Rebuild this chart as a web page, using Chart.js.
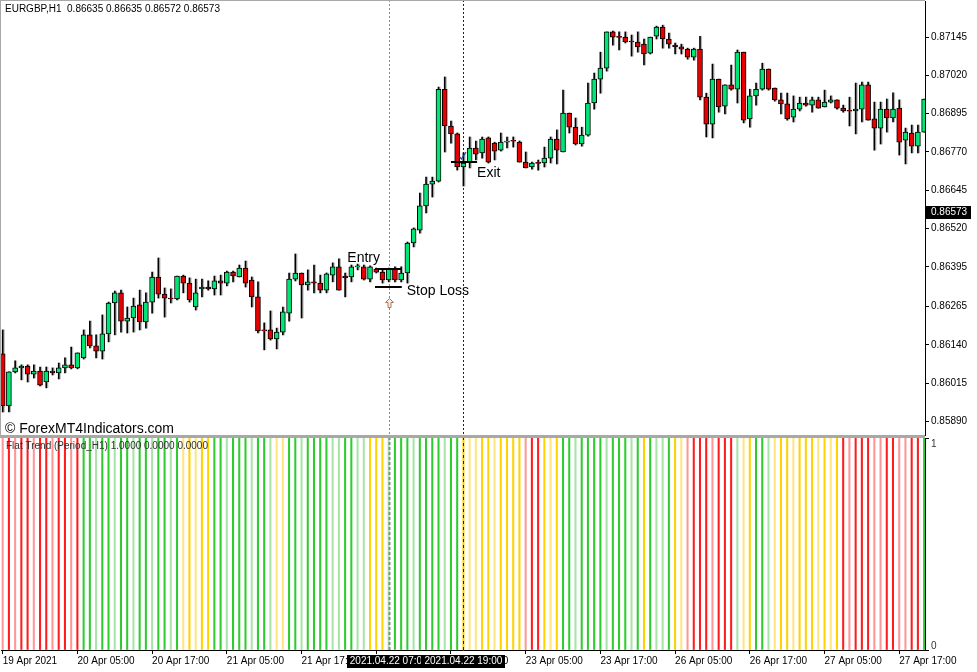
<!DOCTYPE html>
<html lang="en">
<head>
<meta charset="UTF-8">
<title>EURGBP,H1 - Flat Trend</title>
<script src="https://cdn.jsdelivr.net/npm/chart.js"></script>
<style>
  body { margin: 0; background: #fff; width: 977px; height: 672px; overflow: hidden; position: relative; }
  #priceWrap { position: absolute; left: 0; top: 0; width: 977px; height: 437px; }
  #trendWrap { position: absolute; left: 0; top: 437px; width: 977px; height: 235px; }
</style>
</head>
<body>
<div id="priceWrap"><canvas id="priceChart"></canvas></div>
<div id="trendWrap"><canvas id="trendChart"></canvas></div>

<script>
// ---- data (EURGBP H1) ----
const opens = [
  0.86111,0.85941,0.86052,0.86065,0.86071,0.86045,0.86055,0.86019,0.86055,0.86049,
  0.86065,0.86075,0.86065,0.86098,0.86173,0.86137,0.86120,0.86176,0.86277,0.86310,
  0.86218,0.86228,0.86271,0.86215,0.86280,0.86362,0.86306,0.86293,0.86290,0.86365,
  0.86342,0.86264,0.86323,0.86329,0.86323,0.86349,0.86342,0.86378,0.86362,0.86391,
  0.86352,0.86297,0.86189,0.86189,0.86160,0.86182,0.86244,0.86355,0.86375,0.86336,
  0.86346,0.86342,0.86319,0.86368,0.86395,0.86365,0.86362,0.86395,0.86395,0.86355,
  0.86388,0.86378,0.86352,0.86388,0.86352,0.86375,0.86473,0.86515,0.86594,0.86665,
  0.86675,0.86975,0.86855,0.86829,0.86721,0.86737,0.86783,0.86767,0.86816,0.86799,
  0.86776,0.86802,0.86806,0.86802,0.86737,0.86721,0.86734,0.86734,0.86750,0.86812,
  0.86770,0.86897,0.86851,0.86796,0.86825,0.86930,0.87008,0.87044,0.87162,0.87145,
  0.87145,0.87132,0.87129,0.87122,0.87093,0.87148,0.87178,0.87139,0.87119,0.87113,
  0.87106,0.87080,0.87106,0.86949,0.86861,0.87008,0.86920,0.86989,0.86975,0.87096,
  0.86878,0.86953,0.86975,0.87041,0.86979,0.86940,0.86927,0.86884,0.86910,0.86930,
  0.86923,0.86940,0.86917,0.86933,0.86940,0.86913,0.86904,0.86904,0.86910,0.86989,
  0.86878,0.86848,0.86910,0.86881,0.86913,0.86809,0.86832,0.86789,0.86835
];
const highs = [
  0.86189,0.86052,0.86088,0.86075,0.86075,0.86075,0.86068,0.86068,0.86065,0.86081,
  0.86098,0.86133,0.86114,0.86189,0.86218,0.86173,0.86238,0.86280,0.86316,0.86319,
  0.86264,0.86293,0.86319,0.86310,0.86378,0.86424,0.86326,0.86323,0.86365,0.86368,
  0.86359,0.86355,0.86355,0.86349,0.86365,0.86368,0.86381,0.86381,0.86401,0.86414,
  0.86362,0.86346,0.86212,0.86251,0.86195,0.86264,0.86375,0.86437,0.86375,0.86385,
  0.86401,0.86368,0.86375,0.86408,0.86421,0.86375,0.86401,0.86404,0.86401,0.86398,
  0.86391,0.86385,0.86391,0.86395,0.86395,0.86476,0.86522,0.86636,0.86688,0.86688,
  0.86982,0.87015,0.86871,0.86832,0.86767,0.86819,0.86806,0.86819,0.86819,0.86802,
  0.86832,0.86819,0.86819,0.86806,0.86770,0.86737,0.86744,0.86786,0.86819,0.86842,
  0.86972,0.86897,0.86881,0.86851,0.86995,0.87028,0.87096,0.87162,0.87165,0.87162,
  0.87162,0.87152,0.87162,0.87139,0.87145,0.87181,0.87184,0.87158,0.87126,0.87122,
  0.87109,0.87109,0.87148,0.86962,0.87057,0.87008,0.86989,0.87054,0.87103,0.87096,
  0.86975,0.86995,0.87060,0.87041,0.86979,0.86962,0.86962,0.86953,0.86949,0.86949,
  0.86949,0.86949,0.86972,0.86953,0.86940,0.86923,0.86949,0.86995,0.86998,0.86998,
  0.86933,0.86933,0.86943,0.86963,0.86940,0.86848,0.86858,0.86858,0.86943
];
const lows = [
  0.85921,0.85921,0.86049,0.86026,0.86019,0.86032,0.86006,0.86000,0.86042,0.86029,
  0.86049,0.86062,0.86062,0.86094,0.86130,0.86098,0.86094,0.86150,0.86173,0.86182,
  0.86179,0.86182,0.86189,0.86195,0.86244,0.86293,0.86231,0.86277,0.86287,0.86310,
  0.86280,0.86254,0.86297,0.86319,0.86303,0.86303,0.86333,0.86346,0.86362,0.86329,
  0.86264,0.86179,0.86124,0.86156,0.86127,0.86173,0.86218,0.86349,0.86228,0.86319,
  0.86310,0.86310,0.86310,0.86346,0.86319,0.86297,0.86346,0.86385,0.86352,0.86346,
  0.86375,0.86342,0.86346,0.86346,0.86346,0.86342,0.86460,0.86505,0.86571,0.86623,
  0.86672,0.86770,0.86799,0.86711,0.86659,0.86718,0.86744,0.86750,0.86734,0.86744,
  0.86773,0.86783,0.86786,0.86737,0.86718,0.86714,0.86711,0.86721,0.86734,0.86731,
  0.86770,0.86832,0.86793,0.86789,0.86822,0.86910,0.86962,0.87034,0.87119,0.87103,
  0.87126,0.87083,0.87096,0.87054,0.87090,0.87139,0.87109,0.87109,0.87090,0.87090,
  0.87073,0.87070,0.86940,0.86819,0.86816,0.86900,0.86894,0.86972,0.86930,0.86865,
  0.86851,0.86923,0.86972,0.86972,0.86936,0.86894,0.86874,0.86868,0.86904,0.86920,
  0.86900,0.86913,0.86917,0.86930,0.86910,0.86900,0.86855,0.86829,0.86868,0.86874,
  0.86776,0.86796,0.86835,0.86868,0.86760,0.86731,0.86767,0.86767,0.86835
];
const closes = [
  0.85941,0.86052,0.86065,0.86071,0.86045,0.86055,0.86009,0.86055,0.86049,0.86065,
  0.86075,0.86065,0.86114,0.86173,0.86137,0.86120,0.86176,0.86277,0.86310,0.86218,
  0.86228,0.86267,0.86215,0.86280,0.86362,0.86306,0.86293,0.86290,0.86365,0.86342,
  0.86287,0.86310,0.86329,0.86323,0.86349,0.86342,0.86378,0.86365,0.86391,0.86342,
  0.86297,0.86186,0.86186,0.86160,0.86182,0.86248,0.86355,0.86375,0.86336,0.86346,
  0.86342,0.86319,0.86372,0.86395,0.86319,0.86359,0.86395,0.86396,0.86355,0.86395,
  0.86378,0.86352,0.86388,0.86352,0.86375,0.86473,0.86519,0.86594,0.86665,0.86675,
  0.86975,0.86855,0.86829,0.86721,0.86734,0.86783,0.86763,0.86812,0.86737,0.86773,
  0.86802,0.86806,0.86805,0.86737,0.86718,0.86734,0.86733,0.86750,0.86812,0.86776,
  0.86897,0.86851,0.86796,0.86825,0.86930,0.87008,0.87044,0.87162,0.87145,0.87144,
  0.87129,0.87129,0.87113,0.87090,0.87145,0.87178,0.87139,0.87122,0.87113,0.87106,
  0.87080,0.87106,0.86949,0.86861,0.87008,0.86917,0.86989,0.86975,0.87096,0.86874,
  0.86953,0.86975,0.87041,0.86975,0.86940,0.86927,0.86878,0.86910,0.86930,0.86923,
  0.86940,0.86913,0.86933,0.86940,0.86913,0.86904,0.86903,0.86910,0.86989,0.86874,
  0.86848,0.86910,0.86881,0.86910,0.86802,0.86835,0.86789,0.86835,0.86943
];

// Flat Trend state per bar: U/u = up (strong/weak), D/d = down, F/f = flat
const trendState = (
  'dDdDDdDDdDDdD' + 'UUuUUuUUuUUuUUuU' + 'fFfFF' + 'UUuUUUuUUuffUUuUUU' +
  'UuuUUuu' + 'FFF' + 'u' + 'UUUuUUUUuUU' + 'F' + 'ffFFfFFFF' + 'dDD' + 'FfF' +
  'UUuUUUUuUUUuU' + 'F' + 'UuuUFf' + 'dDDDdDDD' + 'ufFUUufFFfFFFfFfF' +
  'DdDDDddDDddDD' + 'U'
).split('');

const priceTicks = [0.87145, 0.87020, 0.86895, 0.86770, 0.86645, 0.86520, 0.86395, 0.86265, 0.86140, 0.86015, 0.85890];
const timeTickBars = [0, 12, 24, 36, 48, 60, 72, 84, 96, 108, 120, 132, 144];
const timeLabels = ['19 Apr 2021', '20 Apr 05:00', '20 Apr 17:00', '21 Apr 05:00', '21 Apr 17:00',
  '22 Apr 05:00', '22 Apr 17:00', '23 Apr 05:00', '23 Apr 17:00', '26 Apr 05:00', '26 Apr 17:00',
  '27 Apr 05:00', '27 Apr 17:00'];

const headerText = 'EURGBP,H1  0.86635 0.86635 0.86572 0.86573';
const lastPrice = 0.86573;
const markerBars = [62, 74];
const markerLabels = ['2021.04.22 07:00', '2021.04.22 19:00'];
const entryLevel = 0.86388, stopLevel = 0.86329, exitLevel = 0.86737;
const entryBars = [59.8, 64.1], exitBars = [72.0, 76.2];

// ---- styles ----
const FONT = "'Liberation Sans', Arial, sans-serif";
const UP = '#00e676', DOWN = '#e80000';
const trendColors = { U: '#2ecc2e', u: '#a8e4a8', D: '#ff1c1c', d: '#ff9696', F: '#ffd200', f: '#ffe580' };
const X_MIN = -0.27, X_MAX = 148.14;

const bodies = opens.map((o, i) => ({ x: i, y: [o, closes[i]] }));
const wicks = lows.map((l, i) => ({ x: i, y: [l, highs[i]] }));
const shadows = lows.map((l, i) => ({ x: i + 0.2, y: [l, highs[i]] }));
const bodyColors = opens.map((o, i) => closes[i] >= o ? UP : DOWN);

function vDashed(ctx, x, y0, y1, color, dash, width) {
  ctx.save();
  ctx.strokeStyle = color;
  ctx.lineWidth = width;
  ctx.setLineDash(dash);
  ctx.beginPath();
  ctx.moveTo(Math.round(x) + 0.5, y0);
  ctx.lineTo(Math.round(x) + 0.5, y1);
  ctx.stroke();
  ctx.restore();
}

const priceDecor = {
  id: 'priceDecor',
  beforeDatasetsDraw(chart) {
    const { ctx, scales: { x } } = chart;
    vDashed(ctx, x.getPixelForValue(markerBars[0]), 0, chart.height, '#8a8a8a', [2, 2], 1);
    vDashed(ctx, x.getPixelForValue(markerBars[1]), 0, chart.height, '#202020', [2, 2], 1);
  },
  afterDraw(chart) {
    const { ctx, chartArea: a, scales: { x, y } } = chart;
    ctx.save();
    // frame
    ctx.fillStyle = '#a8a8a8';
    ctx.fillRect(0, 0, a.right, 1);
    ctx.fillRect(0, 0, 1, a.bottom);
    ctx.fillRect(0, a.bottom, a.right, 2);

    // trade lines
    ctx.fillStyle = '#000';
    const hl = (bars, level) => {
      const x0 = x.getPixelForValue(bars[0]), x1 = x.getPixelForValue(bars[1]);
      ctx.fillRect(x0, Math.round(y.getPixelForValue(level)) - 1, x1 - x0, 2);
    };
    hl(entryBars, entryLevel);
    hl(entryBars, stopLevel);
    hl(exitBars, exitLevel);

    ctx.font = '14px ' + FONT;
    ctx.textBaseline = 'alphabetic';
    ctx.textAlign = 'right';
    ctx.fillText('Entry', x.getPixelForValue(entryBars[0]) + 5, y.getPixelForValue(entryLevel) - 7);
    ctx.textAlign = 'left';
    ctx.fillText('Stop Loss', x.getPixelForValue(entryBars[1]) + 5, y.getPixelForValue(stopLevel) + 8);
    ctx.fillText('Exit', x.getPixelForValue(exitBars[1]), y.getPixelForValue(exitLevel) + 15);
    ctx.fillText('\u00A9 ForexMT4Indicators.com', 5, a.bottom - 2);

    // entry arrow
    const ax = Math.round(x.getPixelForValue(markerBars[0])) + 0.5;
    const ay = Math.round(y.getPixelForValue(stopLevel)) + 11.5;
    ctx.beginPath();
    ctx.moveTo(ax, ay);
    ctx.lineTo(ax - 4, ay + 4);
    ctx.lineTo(ax - 1.5, ay + 4);
    ctx.lineTo(ax - 1.5, ay + 9);
    ctx.lineTo(ax + 1.5, ay + 9);
    ctx.lineTo(ax + 1.5, ay + 4);
    ctx.lineTo(ax + 4, ay + 4);
    ctx.closePath();
    ctx.fillStyle = '#e8eefc';
    ctx.fill();
    ctx.strokeStyle = '#c07838';
    ctx.lineWidth = 1;
    ctx.stroke();

    // exit check mark
    const cx = x.getPixelForValue(exitBars[0]) + 8, cy = y.getPixelForValue(exitLevel) - 6;
    ctx.strokeStyle = '#2040a0';
    ctx.lineWidth = 1.2;
    ctx.beginPath();
    ctx.moveTo(cx, cy);
    ctx.lineTo(cx + 2.5, cy + 3);
    ctx.lineTo(cx + 7, cy - 4);
    ctx.stroke();

    // header
    ctx.fillStyle = '#000';
    ctx.font = '10px ' + FONT;
    ctx.textBaseline = 'middle';
    ctx.fillText(headerText, 5, 9.5);

    // last price box
    const py = Math.round(y.getPixelForValue(lastPrice));
    ctx.fillStyle = '#000';
    ctx.fillRect(a.right + 1, py - 6, 45, 13);
    ctx.fillStyle = '#fff';
    ctx.fillText(lastPrice.toFixed(5), a.right + 6, py + 0.5);
    ctx.restore();
  }
};

const trendDecor = {
  id: 'trendDecor',
  afterDatasetsDraw(chart) {
    const { ctx, chartArea: a, scales: { x, y } } = chart;
    vDashed(ctx, x.getPixelForValue(markerBars[0]), 0, a.bottom, '#8a8a8a', [3, 2], 2);
    vDashed(ctx, x.getPixelForValue(markerBars[1]), 0, a.bottom, '#202020', [3, 3], 1);
    ctx.save();
    ctx.fillStyle = '#a8a8a8';
    ctx.fillRect(0, a.top - 1, a.right, 1);
    ctx.font = '10px ' + FONT;
    ctx.textBaseline = 'middle';
    ctx.fillStyle = '#303030';
    ctx.fillText('Flat Trend (Period_H1) 1.0000 0.0000 0.0000', 6, a.top + 8);
    ctx.fillStyle = '#333';
    ctx.fillText('1', a.right + 6, y.getPixelForValue(1) + 6);
    ctx.fillText('0', a.right + 6, y.getPixelForValue(0) - 4);
    ctx.restore();
  },
  afterDraw(chart) {
    const { ctx, chartArea: a, scales: { x } } = chart;
    ctx.save();
    ctx.font = '10px ' + FONT;
    ctx.textBaseline = 'middle';
    ctx.textAlign = 'center';
    markerBars.forEach((b, k) => {
      const cx = x.getPixelForValue(b);
      ctx.fillStyle = '#000';
      ctx.fillRect(Math.round(cx - 42), a.bottom + 5, 84, 13);
      ctx.fillStyle = '#fff';
      ctx.fillText(markerLabels[k], cx, a.bottom + 11.5);
    });
    ctx.restore();
  }
};

const noPad = s => { s.paddingTop = 0; s.paddingBottom = 0; s.paddingLeft = 0; s.paddingRight = 0; };

new Chart(document.getElementById('priceChart'), {
  type: 'bar',
  data: {
    datasets: [
      { data: bodies, backgroundColor: bodyColors, borderColor: '#000', borderWidth: 1,
        borderSkipped: false, barThickness: 5, minBarLength: 1, grouped: false },
      { data: wicks, backgroundColor: '#000', borderWidth: 0, barThickness: 1, grouped: false },
      { data: shadows, backgroundColor: '#b8b8b8', borderWidth: 0, barThickness: 1, grouped: false }
    ]
  },
  options: {
    responsive: true, maintainAspectRatio: false, animation: false, devicePixelRatio: 1, events: [],
    layout: { padding: { top: 1, left: 1, right: 0, bottom: 2 } },
    plugins: { legend: { display: false }, tooltip: { enabled: false } },
    scales: {
      x: { type: 'linear', offset: false, min: X_MIN, max: X_MAX, display: false },
      y: {
        position: 'right', min: 0.85846, max: 0.87263,
        afterBuildTicks: s => { s.ticks = priceTicks.map(v => ({ value: v })); },
        afterFit: s => { s.width = 52; noPad(s); },
        ticks: { callback: v => v.toFixed(5), color: '#000', padding: 2, font: { family: FONT, size: 10 } },
        grid: { drawOnChartArea: false, drawTicks: true, tickLength: 4, color: '#000' },
        border: { display: true, color: '#000' }
      }
    }
  },
  plugins: [priceDecor]
});

new Chart(document.getElementById('trendChart'), {
  type: 'bar',
  data: {
    datasets: [{
      data: trendState.map((s, i) => ({ x: i, y: 1 })),
      backgroundColor: trendState.map(s => trendColors[s]),
      borderWidth: 0, barThickness: 1.4, grouped: false
    }]
  },
  options: {
    responsive: true, maintainAspectRatio: false, animation: false, devicePixelRatio: 1, events: [],
    layout: { padding: { top: 1, left: 1, right: 0, bottom: 0 } },
    plugins: { legend: { display: false }, tooltip: { enabled: false } },
    scales: {
      x: {
        type: 'linear', offset: false, min: X_MIN, max: X_MAX, position: 'bottom',
        afterBuildTicks: s => { s.ticks = timeTickBars.map(v => ({ value: v })); },
        afterFit: s => { s.height = 22; noPad(s); },
        ticks: { autoSkip: false, maxRotation: 0, align: 'start', padding: 1, color: '#000',
                 font: { family: FONT, size: 10 }, callback: (v, i) => timeLabels[i] },
        grid: { offset: false, drawOnChartArea: false, drawTicks: true, tickLength: 4, color: '#000' },
        border: { display: true, color: '#000' }
      },
      y: {
        position: 'right', min: 0, max: 1,
        afterBuildTicks: s => { s.ticks = [{ value: 0 }, { value: 1 }]; },
        afterFit: s => { s.width = 52; noPad(s); },
        ticks: { display: false },
        grid: { drawOnChartArea: false, drawTicks: true, tickLength: 4, color: '#000' },
        border: { display: true, color: '#000' }
      }
    }
  },
  plugins: [trendDecor]
});
</script>
</body>
</html>
